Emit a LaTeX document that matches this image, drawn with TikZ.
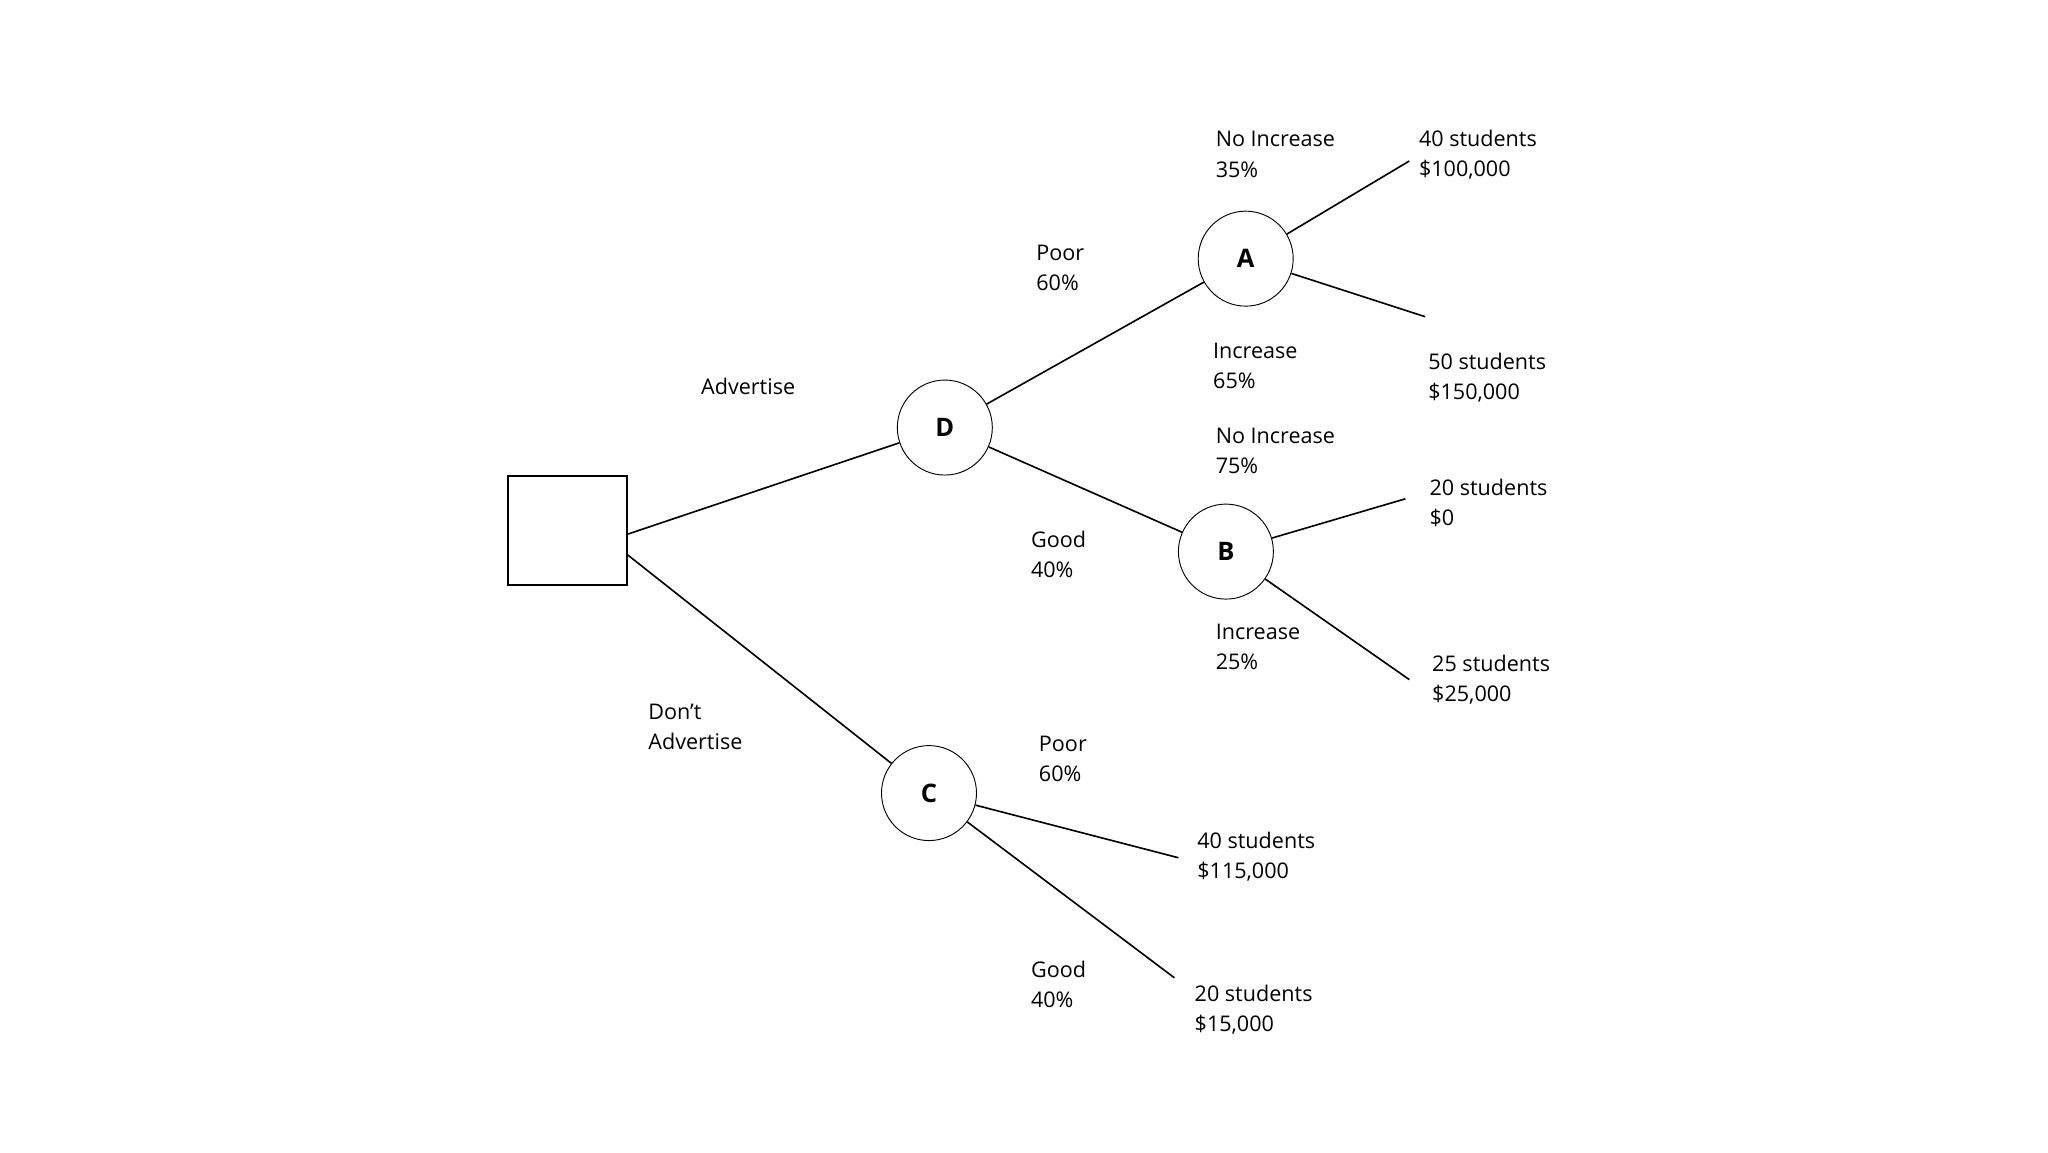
\documentclass[tikz,border=0pt]{standalone}
\usepackage{fontspec}
\setmainfont{Open Sans}
\begin{document}
\begin{tikzpicture}[x=0.02cm,y=-0.02cm,
  chance/.style={draw,circle,minimum size=1.44cm,inner sep=0,font=\fontsize{11}{13}\selectfont\bfseries},
  lbl/.style={anchor=west,align=left,inner sep=0,font=\fontsize{9.3}{13}\selectfont},
  ln/.style={line width=0.7pt}]
\useasboundingbox (0,0) rectangle (1552,873);
\node[draw,minimum width=1.8cm,minimum height=1.64cm,inner sep=0,line width=0.8pt] (sq) at (430,402) {};
\node[chance] (D) at (716,324) {D};
\node[chance] (A) at (944,196) {A};
\node[chance] (B) at (929,418) {B};
\node[chance] (C) at (704,601) {C};
\coordinate (s1) at (475,405);
\coordinate (s2) at (475,420);
\coordinate (a1) at (1068,122);
\coordinate (a2) at (1080,240);
\coordinate (b1) at (1065,378);
\coordinate (b2) at (1068,515);
\coordinate (c1) at (893,650);
\coordinate (c2) at (890,741);
\draw[ln] (s1) -- (D);
\draw[ln] (s2) -- (C);
\draw[ln] (D) -- (A);
\draw[ln] (D) -- (B);
\draw[ln] (A) -- (a1);
\draw[ln] (A) -- (a2);
\draw[ln] (B) -- (b1);
\draw[ln] (B) -- (b2);
\draw[ln] (C) -- (c1);
\draw[ln] (C) -- (c2);
\node[lbl] (l1) at (531,293) {Advertise};
\node[lbl] (l2) at (491,551) {Don’t\\Advertise};
\node[lbl] (l3) at (785,203) {Poor\\60\%};
\node[lbl] (l4) at (781,420) {Good\\40\%};
\node[lbl] (l5) at (921,117) {No Increase\\35\%};
\node[lbl] (l6) at (919,277) {Increase\\65\%};
\node[lbl] (l7) at (921,342) {No Increase\\75\%};
\node[lbl] (l8) at (921,490) {Increase\\25\%};
\node[lbl] (l9) at (1075,117) {40 students\\\$100,000};
\node[lbl] (l10) at (1082,286) {50 students\\\$150,000};
\node[lbl] (l11) at (1083,381) {20 students\\\$0};
\node[lbl] (l12) at (1085,515) {25 students\\\$25,000};
\node[lbl] (l13) at (787,575) {Poor\\60\%};
\node[lbl] (l14) at (907,649) {40 students\\\$115,000};
\node[lbl] (l15) at (781,746) {Good\\40\%};
\node[lbl] (l16) at (905,765) {20 students\\\$15,000};
\end{tikzpicture}
\end{document}
